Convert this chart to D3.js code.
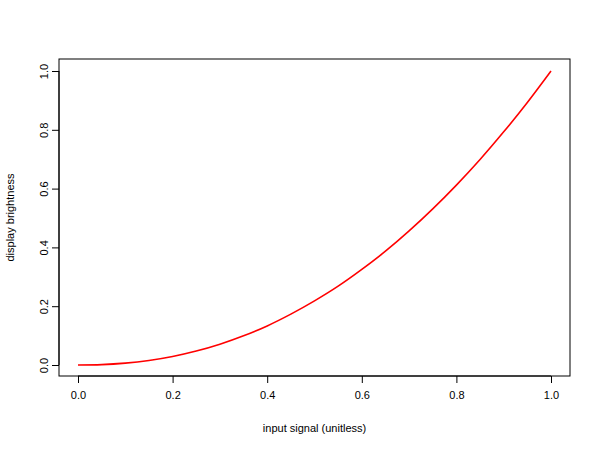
<!DOCTYPE html>
<html>
<head>
<meta charset="utf-8">
<script src="https://cdn.jsdelivr.net/npm/d3@7"></script>
<style>
body { margin: 0; background: #fff; }
text { font-family: "Liberation Sans", Arial, sans-serif; font-size: 11px; fill: #000; }
</style>
</head>
<body>
<div id="chart"></div>
<script>
// values
const xs = [0, 0.05, 0.1, 0.15, 0.2, 0.25, 0.3, 0.35, 0.4, 0.45, 0.5,
            0.55, 0.6, 0.65, 0.7, 0.75, 0.8, 0.85, 0.9, 0.95, 1];
const ys = [0, 0.0014, 0.0063, 0.0154, 0.029, 0.0474, 0.0707, 0.0993, 0.133, 0.173, 0.218,
            0.268, 0.325, 0.387, 0.456, 0.531, 0.612, 0.699, 0.793, 0.893, 1];
const xTicks = [0, 0.2, 0.4, 0.6, 0.8, 1.0];
const yTicks = [0, 0.2, 0.4, 0.6, 0.8, 1.0];

const W = 600, H = 450;
const BOX = {left: 59, right: 570, top: 59, bottom: 376};

const svg = d3.select("#chart").append("svg")
  .attr("width", W).attr("height", H);

const X_SCALE = d3.scaleLinear().domain([0, 1]).range([78, 551]);
const Y_SCALE = d3.scaleLinear().domain([0, 1]).range([365, 71]);

// plot box
svg.append("rect")
  .attr("x", BOX.left).attr("y", BOX.top)
  .attr("width", BOX.right - BOX.left).attr("height", BOX.bottom - BOX.top)
  .attr("fill", "none").attr("stroke", "#000");

// x axis
const xAxis = svg.append("g")
  .attr("transform", "translate(0," + BOX.bottom + ")")
  .call(d3.axisBottom(X_SCALE).tickValues(xTicks).tickFormat(d3.format(".1f")).tickSize(7).tickPadding(8));
xAxis.select(".domain").attr("d", "M" + X_SCALE(0) + ",0H" + X_SCALE(1));

// y axis
const yAxis = svg.append("g")
  .attr("transform", "translate(" + BOX.left + ",0)")
  .call(d3.axisLeft(Y_SCALE).tickValues(yTicks).tickFormat(d3.format(".1f")).tickSize(7).tickPadding(8));
yAxis.select(".domain").attr("d", "M0," + Y_SCALE(0) + "V" + Y_SCALE(1));
yAxis.selectAll(".tick text")
  .attr("text-anchor", "middle")
  .attr("transform", "translate(-15,0) rotate(-90)")
  .attr("x", 0).attr("dy", "0.35em");

svg.selectAll(".tick text").style("font-size", "11px").style("font-family", "Liberation Sans, Arial, sans-serif");

// axis titles
svg.append("text").attr("x", (BOX.left + BOX.right) / 2).attr("y", 432)
  .attr("text-anchor", "middle").text("input signal (unitless)");
svg.append("text")
  .attr("transform", "translate(14," + ((BOX.top + BOX.bottom) / 2) + ") rotate(-90)")
  .attr("text-anchor", "middle").text("display brightness");

// curve
const line = d3.line()
  .x((d, i) => X_SCALE(xs[i]))
  .y((d, i) => Y_SCALE(ys[i]))
  .curve(d3.curveMonotoneX);
svg.append("path")
  .datum(xs)
  .attr("d", line)
  .attr("fill", "none")
  .attr("stroke", "red")
  .attr("stroke-width", 1.6);
</script>
</body>
</html>
